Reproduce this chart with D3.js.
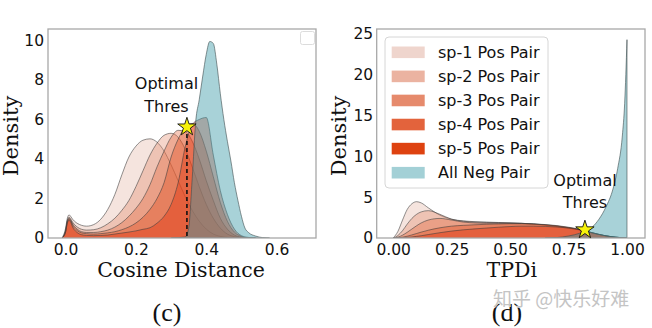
<!DOCTYPE html>
<html>
<head>
<meta charset="utf-8">
<script src="https://cdn.jsdelivr.net/npm/d3@7"></script>
<style>
  body { margin: 0; background: #fff; }
  svg { display: block; }
</style>
</head>
<body>
<svg id="chart" width="652" height="328"></svg>
<script>
// series names + colours (legend order)
var seriesNames = ["sp-1 Pos Pair", "sp-2 Pos Pair", "sp-3 Pos Pair", "sp-4 Pos Pair", "sp-5 Pos Pair", "All Neg Pair"];
var legendColors = ["#efd5cd", "#ebb3a1", "#e68a6c", "#e3633c", "#de4210", "#a3d0d6"];
// fill colours used in the plot (drawn translucent, stacked)
var posFill = ["#e2b2a1", "#e18666", "#e35f33", "#df4515", "#e02500"];
var negFill = "#3e9ba8";

// (c) cosine distance densities
var cosX = [-0.01, 0, 0.005, 0.01, 0.015, 0.02, 0.03, 0.04, 0.05, 0.06,
  0.08, 0.10, 0.12, 0.14, 0.16, 0.18, 0.20, 0.22, 0.24, 0.26, 0.28, 0.30,
  0.32, 0.34, 0.36, 0.38, 0.40, 0.42, 0.44, 0.46, 0.48, 0.50, 0.52, 0.54];
var cosSp1 = [0, 0.5, 1.0, 1.17, 1.08, 0.95, 0.78, 0.68, 0.62, 0.6,
  0.68, 0.95, 1.45, 2.2, 3.2, 4.1, 4.65, 4.95, 5.02, 4.85, 4.4, 3.7,
  2.9, 2.1, 1.4, 0.85, 0.45, 0.2, 0.08, 0.03, 0.01, 0, 0, 0];
var cosSp2 = [0, 0.4, 0.9, 1.05, 0.95, 0.8, 0.6, 0.48, 0.42, 0.4,
  0.42, 0.52, 0.72, 1.0, 1.4, 1.9, 2.6, 3.4, 4.2, 4.8, 5.2, 5.3,
  5.1, 4.5, 3.6, 2.6, 1.7, 1.0, 0.5, 0.2, 0.07, 0.02, 0, 0];
var cosSp3 = [0, 0.35, 0.85, 1.0, 0.9, 0.72, 0.5, 0.36, 0.3, 0.28,
  0.28, 0.32, 0.4, 0.55, 0.78, 1.1, 1.5, 2.0, 2.7, 3.6, 4.4, 5.1,
  5.45, 5.4, 4.9, 4.0, 2.9, 1.9, 1.0, 0.45, 0.15, 0.04, 0, 0];
var cosSp4 = [0, 0.3, 0.8, 0.95, 0.85, 0.65, 0.42, 0.3, 0.24, 0.22,
  0.2, 0.22, 0.26, 0.32, 0.42, 0.56, 0.76, 1.05, 1.45, 2.0, 2.8, 4.1,
  5.0, 5.6, 5.8, 5.4, 4.4, 3.1, 1.8, 0.85, 0.3, 0.08, 0, 0];
var cosSp5 = [0, 0.3, 0.75, 0.9, 0.78, 0.55, 0.32, 0.2, 0.15, 0.13,
  0.12, 0.13, 0.15, 0.2, 0.25, 0.3, 0.36, 0.44, 0.52, 0.75, 1.1, 1.7,
  2.8, 4.6, 5.75, 6.0, 6.1, 4.2, 2.4, 1.2, 0.45, 0.12, 0.03, 0];
var cosNegX = [0.30, 0.34, 0.35, 0.36, 0.37, 0.38, 0.39, 0.40, 0.41, 0.42, 0.43, 0.44,
  0.45, 0.46, 0.47, 0.48, 0.49, 0.50, 0.51, 0.52, 0.54, 0.56, 0.58];
var cosNeg = [0, 0.05, 0.5, 3.0, 5.9, 7.0, 8.2, 9.3, 9.95, 9.85, 8.8, 7.3,
  6.0, 4.9, 3.9, 2.8, 1.9, 1.1, 0.5, 0.28, 0.1, 0.02, 0];
var cosThres = [0.345, 5.62];
var cosXTicks = [0, 0.2, 0.4, 0.6];
var cosYTicks = [0, 2, 4, 6, 8, 10];

// (d) TPDi densities
var tpdX = [0, 0.02, 0.04, 0.06, 0.08, 0.10, 0.12, 0.15, 0.20, 0.25, 0.30, 0.35,
  0.40, 0.45, 0.50, 0.55, 0.60, 0.65, 0.70, 0.75, 0.80, 0.85, 0.90, 0.95, 1.00];
var tpdSp1 = [0, 0.8, 2.2, 3.5, 4.2, 4.45, 4.3, 3.7, 2.8, 2.3, 2.1, 2.0,
  1.95, 1.9, 1.85, 1.8, 1.7, 1.55, 1.4, 1.2, 0.95, 0.6, 0.3, 0.1, 0];
var tpdSp2 = [0, 0.3, 0.9, 1.7, 2.4, 2.9, 3.2, 3.35, 2.9, 2.3, 2.05, 1.95,
  1.9, 1.88, 1.85, 1.8, 1.72, 1.6, 1.45, 1.25, 1.0, 0.62, 0.3, 0.1, 0];
var tpdSp3 = [0, 0.1, 0.35, 0.7, 1.1, 1.5, 1.85, 2.2, 2.4, 2.2, 1.95, 1.85,
  1.8, 1.8, 1.8, 1.78, 1.72, 1.62, 1.48, 1.28, 1.02, 0.65, 0.32, 0.1, 0];
var tpdSp4 = [0, 0.03, 0.1, 0.22, 0.38, 0.55, 0.72, 0.95, 1.25, 1.45, 1.55, 1.62,
  1.68, 1.72, 1.75, 1.75, 1.72, 1.65, 1.52, 1.32, 1.05, 0.66, 0.32, 0.1, 0];
var tpdSp5 = [0, 0.01, 0.03, 0.07, 0.12, 0.2, 0.28, 0.42, 0.65, 0.85, 1.0, 1.12,
  1.22, 1.32, 1.4, 1.45, 1.45, 1.42, 1.35, 1.22, 1.0, 0.65, 0.32, 0.1, 0];
var tpdNegX = [0.65, 0.70, 0.75, 0.80, 0.85, 0.88, 0.91, 0.94, 0.96, 0.98, 0.99, 1.0];
var tpdNeg = [0, 0.05, 0.25, 0.6, 1.3, 2.3, 3.8, 6.0, 8.5, 12.5, 16.5, 24.3];
var tpdThres = [0.82, 1.0];
var tpdXTicks = [0, 0.25, 0.5, 0.75, 1.0];
var tpdYTicks = [0, 5, 10, 15, 20, 25];

var svg = d3.select("#chart");
var sans = "DejaVu Sans, sans-serif";
var serif = "DejaVu Serif, serif";

function panel(opt) {
  var x = d3.scaleLinear().domain(opt.xDomain).range([opt.left, opt.right]);
  var y = d3.scaleLinear().domain(opt.yDomain).range([238, 29]);
  var g = svg.append("g");

  var clipId = "clip" + opt.id;
  svg.append("clipPath").attr("id", clipId).append("rect")
    .attr("x", opt.left).attr("y", 29).attr("width", opt.right - opt.left).attr("height", 209);
  var plot = g.append("g").attr("clip-path", "url(#" + clipId + ")");

  var area = d3.area().x(function(d) { return x(d[0]); }).y0(y(0)).y1(function(d) { return y(d[1]); })
    .curve(d3.curveMonotoneX);
  var line = d3.line().x(function(d) { return x(d[0]); }).y(function(d) { return y(d[1]); })
    .curve(d3.curveMonotoneX);

  // positive pairs stacked with alpha, negatives translucent on top
  opt.pos.forEach(function(vals, i) {
    var pts = opt.xs.map(function(v, j) { return [v, vals[j]]; });
    plot.append("path").attr("d", area(pts)).attr("fill", posFill[i]).attr("fill-opacity", 0.35);
    plot.append("path").attr("d", line(pts)).attr("fill", "none")
      .attr("stroke", "#3a3a3a").attr("stroke-width", 0.8).attr("stroke-opacity", 0.7);
  });

  var negPts = opt.negX.map(function(v, j) { return [v, opt.neg[j]]; });
  plot.append("path").attr("d", area(negPts)).attr("fill", negFill).attr("fill-opacity", 0.45);
  plot.append("path").attr("d", area(negPts)).attr("fill", "none")
    .attr("stroke", "#3e4b4d").attr("stroke-width", 0.8).attr("stroke-opacity", 0.75);

  // axes
  var xAxis = d3.axisBottom(x).tickValues(opt.xTicks).tickFormat(d3.format(opt.xFmt)).tickSize(0).tickPadding(5.5);
  var yAxis = d3.axisLeft(y).tickValues(opt.yTicks).tickFormat(d3.format("d")).tickSize(0).tickPadding(opt.yPad);
  var gx = g.append("g").attr("transform", "translate(0,238)").call(xAxis);
  var gy = g.append("g").attr("transform", "translate(" + opt.left + ",0)").call(yAxis);
  [gx, gy].forEach(function(a) {
    a.select(".domain").remove();
    a.selectAll("text").attr("font-family", sans).attr("font-size", 15.5).attr("fill", "#111");
  });

  g.append("rect").attr("x", opt.left).attr("y", 29)
    .attr("width", opt.right - opt.left).attr("height", 209)
    .attr("fill", "none").attr("stroke", "#a8a8a8").attr("stroke-width", 1.3);

  g.append("text").attr("x", (opt.left + opt.right) / 2 + opt.xTitleShift).attr("y", 276.5)
    .attr("text-anchor", "middle").attr("font-family", serif).attr("font-size", 20.5)
    .attr("fill", "#111").text(opt.xTitle);
  g.append("text").attr("transform", "translate(" + opt.yTitleX + ",136) rotate(-90)")
    .attr("text-anchor", "middle").attr("dy", "0.36em").attr("font-family", serif).attr("font-size", 21)
    .attr("fill", "#111").text("Density");

  return { x: x, y: y, g: g };
}

function star(p, pt) {
  p.g.append("path").attr("d", d3.symbol(d3.symbolStar, 105)())
    .attr("transform", "translate(" + p.x(pt[0]) + "," + p.y(pt[1]) + ")")
    .attr("fill", "#f7f20a").attr("stroke", "#111").attr("stroke-width", 0.9);
}

function note(p, cx, y1, y2) {
  p.g.append("text").attr("x", cx).attr("y", y1).attr("text-anchor", "middle")
    .attr("font-family", sans).attr("font-size", 16).attr("fill", "#111").text("Optimal");
  p.g.append("text").attr("x", cx).attr("y", y2).attr("text-anchor", "middle")
    .attr("font-family", sans).attr("font-size", 16).attr("fill", "#111").text("Thres");
}

// ---- (c) ----
var c = panel({
  id: "c", left: 48, right: 316, xDomain: [-0.05, 0.712], yDomain: [0, 10.58],
  xs: cosX, pos: [cosSp1, cosSp2, cosSp3, cosSp4, cosSp5], negX: cosNegX, neg: cosNeg,
  xTicks: cosXTicks, yTicks: cosYTicks, xFmt: ".1f", yPad: 4,
  xTitle: "Cosine Distance", xTitleShift: -1, yTitleX: 10
});
c.g.append("line")
  .attr("x1", c.x(cosThres[0])).attr("x2", c.x(cosThres[0]))
  .attr("y1", c.y(cosThres[1])).attr("y2", c.y(0))
  .attr("stroke", "#111").attr("stroke-width", 1.6).attr("stroke-dasharray", "4,3");
star(c, cosThres);
note(c, 166.5, 88.5, 111.5);
// empty legend box
c.g.append("rect").attr("x", 300.5).attr("y", 31.5).attr("width", 14).attr("height", 13).attr("rx", 2)
  .attr("fill", "#fff").attr("stroke", "#dcdcdc");

// ---- (d) ----
var d = panel({
  id: "d", left: 376.7, right: 645, xDomain: [-0.0705, 1.077], yDomain: [0, 25.61],
  xs: tpdX, pos: [tpdSp1, tpdSp2, tpdSp3, tpdSp4, tpdSp5], negX: tpdNegX, neg: tpdNeg,
  xTicks: tpdXTicks, yTicks: tpdYTicks, xFmt: ".2f", yPad: 3.5,
  xTitle: "TPDi", xTitleShift: 1, yTitleX: 338
});
star(d, tpdThres);
note(d, 585, 185.5, 207.5);

// legend
var leg = d.g.append("g");
leg.append("rect").attr("x", 385).attr("y", 37).attr("width", 163).attr("height", 151).attr("rx", 4)
  .attr("fill", "#fff").attr("fill-opacity", 0.85).attr("stroke", "#d6d6d6");
seriesNames.forEach(function(name, i) {
  var cy = 52.3 + i * 24.08;
  leg.append("rect").attr("x", 391.7).attr("y", cy - 5.8).attr("width", 33).attr("height", 11.6)
    .attr("fill", legendColors[i]);
  leg.append("text").attr("x", 438).attr("y", cy).attr("dy", "0.36em")
    .attr("font-family", sans).attr("font-size", 16).attr("fill", "#111").text(name);
});

// sub captions
svg.append("text").attr("x", 167).attr("y", 321).attr("text-anchor", "middle")
  .attr("font-family", "Liberation Serif, serif").attr("font-size", 26).attr("fill", "#111").text("(c)");
svg.append("text").attr("x", 507).attr("y", 321).attr("text-anchor", "middle")
  .attr("font-family", "Liberation Serif, serif").attr("font-size", 26).attr("fill", "#111").text("(d)");

// watermark
svg.append("text").attr("x", 493).attr("y", 306)
  .attr("font-family", "Noto Sans CJK SC, sans-serif").attr("font-size", 19)
  .attr("fill", "#c4c4c4").attr("stroke", "#fff").attr("stroke-width", 0.6).attr("paint-order", "stroke")
  .text("知乎 @快乐好难");
</script>
</body>
</html>
